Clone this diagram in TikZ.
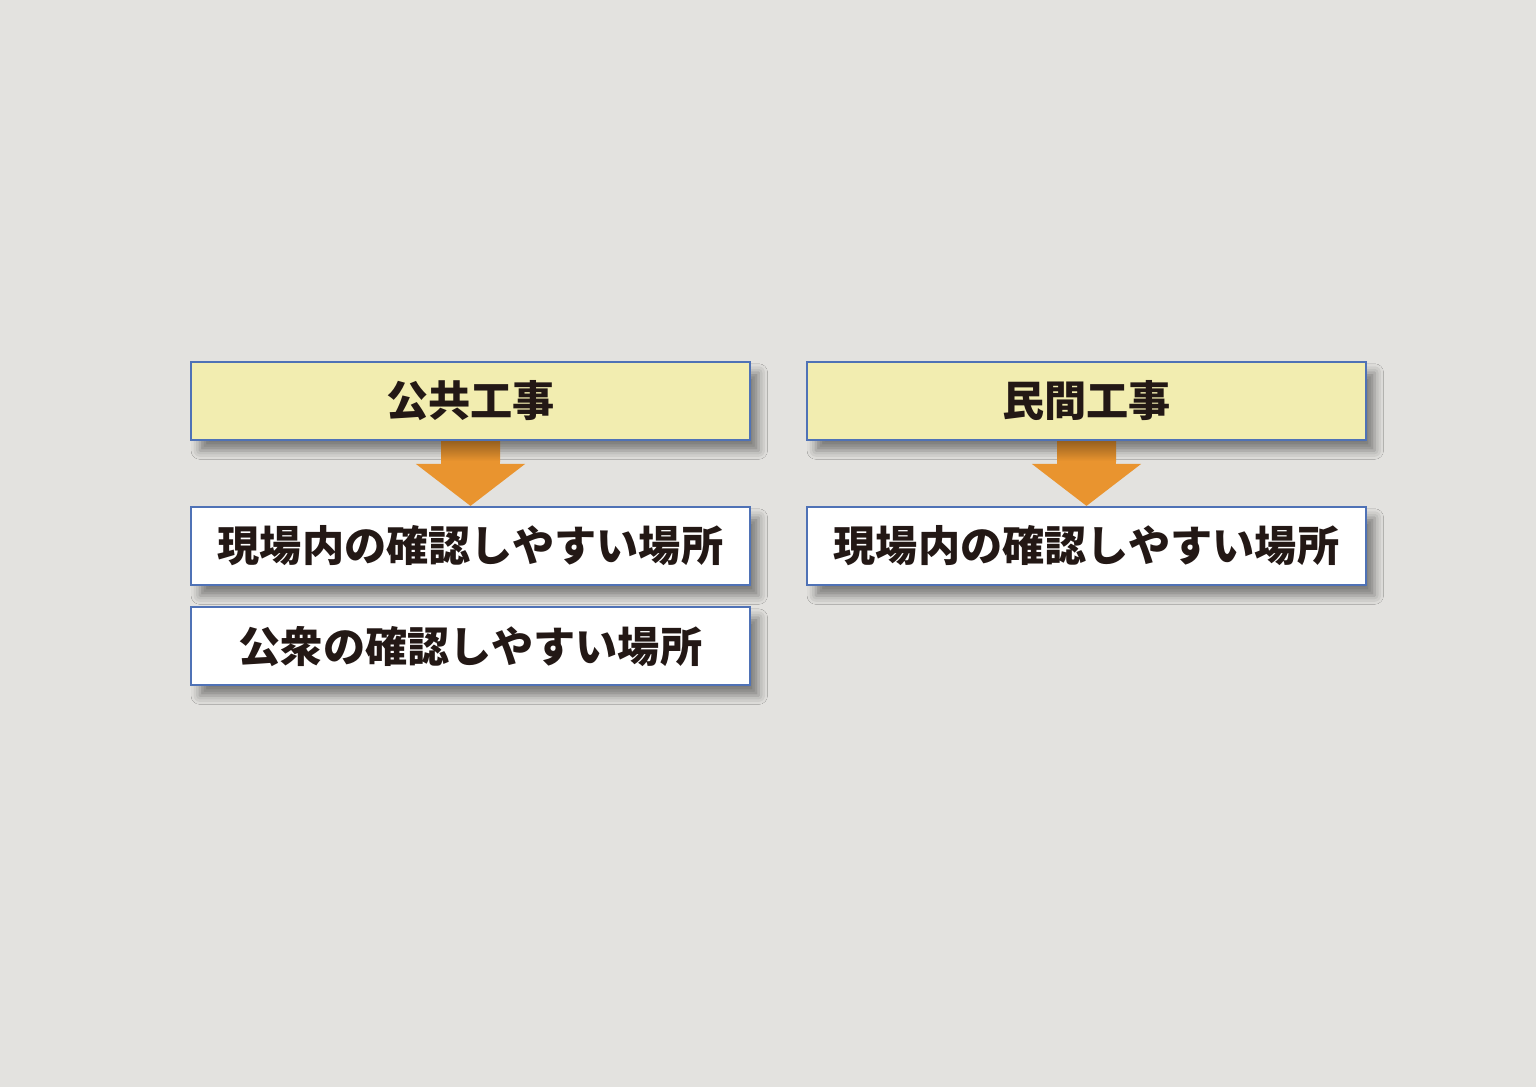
\documentclass[tikz,border=0pt]{standalone}
\usepackage{fontspec}
\setmainfont{Noto Sans CJK JP}
\usetikzlibrary{positioning,shadows.blur,arrows.meta}
\definecolor{paper}{HTML}{E3E2DF}
\definecolor{headfill}{HTML}{F2EDB0}
\definecolor{frameblue}{HTML}{4F72B6}
\definecolor{arroworange}{HTML}{E9942F}
\definecolor{ink}{HTML}{231815}

\begin{document}
\begin{tikzpicture}[x=0.02cm,y=-0.02cm,
    box/.style={draw=frameblue, line width=1.2pt, fill=white,
      minimum width=11.18cm, minimum height=1.56cm, inner sep=0pt,
      text=ink, font=\fontsize{24}{28}\selectfont\bfseries,
      blur shadow={shadow xshift=5pt, shadow yshift=-6pt,
        shadow blur radius=5pt, shadow opacity=45}},
    head/.style={box, fill=headfill},
    flow/.style={arroworange, line width=1.18cm,
      -{Triangle[length=0.84cm, width=2.14cm]}}]
\fill[paper] (0,0) rectangle (1536,1087);
% left column
\node[head] (public) at (470.5,401) {公共工事};
\node[box] (publicsite) at (470.5,546) {現場内の確認しやすい場所};
\node[box, below=0.4cm of publicsite] (publicview) {公衆の確認しやすい場所};
% right column
\node[head] (private) at (1086.5,401) {民間工事};
\node[box] (privatesite) at (1086.5,546) {現場内の確認しやすい場所};
% arrows
\draw[flow] (public.south) -- (publicsite.north);
\draw[flow] (private.south) -- (privatesite.north);
\shade[top color=arroworange!65!black, bottom color=arroworange]
  (public.south) ++(-29.5,0) rectangle ++(59,20);
\shade[top color=arroworange!65!black, bottom color=arroworange]
  (private.south) ++(-29.5,0) rectangle ++(59,20);
\end{tikzpicture}
\end{document}
